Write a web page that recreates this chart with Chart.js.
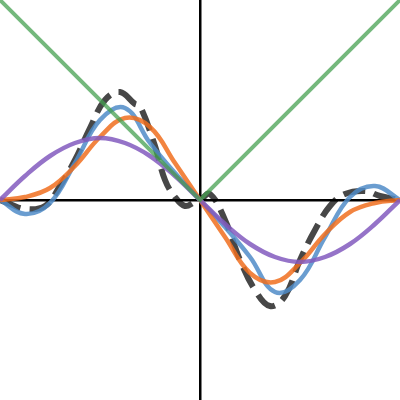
<!DOCTYPE html>
<html>
<head>
<script src="https://cdn.jsdelivr.net/npm/chart.js@4"></script>
<style>
  html, body { margin: 0; padding: 0; background: #fff; }
  #wrap { width: 400px; height: 400px; }
</style>
</head>
<body>
<div id="wrap"><canvas id="chart"></canvas></div>
<script>
const greenX = [-1, 0, 1];
const greenY = [1, 0, 1];

const smoothX = [-1, -0.875, -0.75, -0.625, -0.5, -0.375, -0.25, -0.125, 0,
  0.125, 0.25, 0.375, 0.5, 0.625, 0.75, 0.875, 1];
const purpleY = [0, 0.12, 0.22, 0.285, 0.31, 0.285, 0.22, 0.12, 0,
  -0.12, -0.22, -0.285, -0.31, -0.285, -0.22, -0.12, 0];
const orangeY = [0, 0.015, 0.06, 0.17, 0.315, 0.41, 0.365, 0.185, 0,
  -0.185, -0.365, -0.41, -0.315, -0.17, -0.06, -0.015, 0];
const blueY = [0, -0.07, -0.015, 0.185, 0.4, 0.46, 0.285, 0.135, 0,
  -0.135, -0.285, -0.46, -0.4, -0.185, 0.015, 0.07, 0];

const blackX = [-1, -0.95, -0.875, -0.775, -0.7, -0.625, -0.55, -0.475, -0.4, -0.325,
  -0.3, -0.225, -0.175, -0.125, -0.075, -0.025, 0,
  0.05, 0.125, 0.2, 0.275, 0.35, 0.425, 0.5, 0.575, 0.65, 0.725, 0.825, 0.9, 1];
const blackY = [0, -0.02, -0.045, -0.03, 0.07, 0.2, 0.36, 0.5, 0.54, 0.48,
  0.47, 0.27, 0.1, 0.015, -0.03, -0.01, 0,
  0.03, -0.1, -0.3, -0.45, -0.53, -0.48, -0.3, -0.15, -0.03, 0.03, 0.045, 0.02, 0];

function pts(xs, ys) {
  return xs.map((x, i) => ({ x: x, y: ys[i] }));
}

function line(xs, ys, color, width, extra) {
  return Object.assign({
    data: pts(xs, ys),
    borderColor: color,
    borderWidth: width,
    pointRadius: 0,
    fill: false,
    tension: 0.4,
  }, extra || {});
}

new Chart(document.getElementById("chart"), {
  type: "line",
  data: {
    datasets: [
      line(greenX, greenY, "rgba(70,160,80,0.75)", 4, { tension: 0 }),
      line(smoothX, purpleY, "rgba(130,90,190,0.85)", 4.5),
      line(smoothX, orangeY, "rgba(240,110,30,0.85)", 4.5),
      line(smoothX, blueY, "rgba(80,140,200,0.85)", 4.5),
      line(blackX, blackY, "rgba(0,0,0,0.72)", 6, { borderDash: [22, 9] }),
    ],
  },
  options: {
    animation: false,
    responsive: true,
    maintainAspectRatio: false,
    layout: { padding: 0 },
    plugins: { legend: { display: false }, tooltip: { enabled: false } },
    scales: {
      x: {
        type: "linear", min: -1, max: 1,
        ticks: { display: false, stepSize: 1 },
        border: { display: false },
        grid: { drawTicks: false, lineWidth: 2.5, color: (c) => c.tick && c.tick.value === 0 ? "#000" : "transparent" },
      },
      y: {
        type: "linear", min: -1, max: 1,
        ticks: { display: false, stepSize: 1 },
        border: { display: false },
        grid: { drawTicks: false, lineWidth: 2.5, color: (c) => c.tick && c.tick.value === 0 ? "#000" : "transparent" },
      },
    },
  },
});
</script>
</body>
</html>
